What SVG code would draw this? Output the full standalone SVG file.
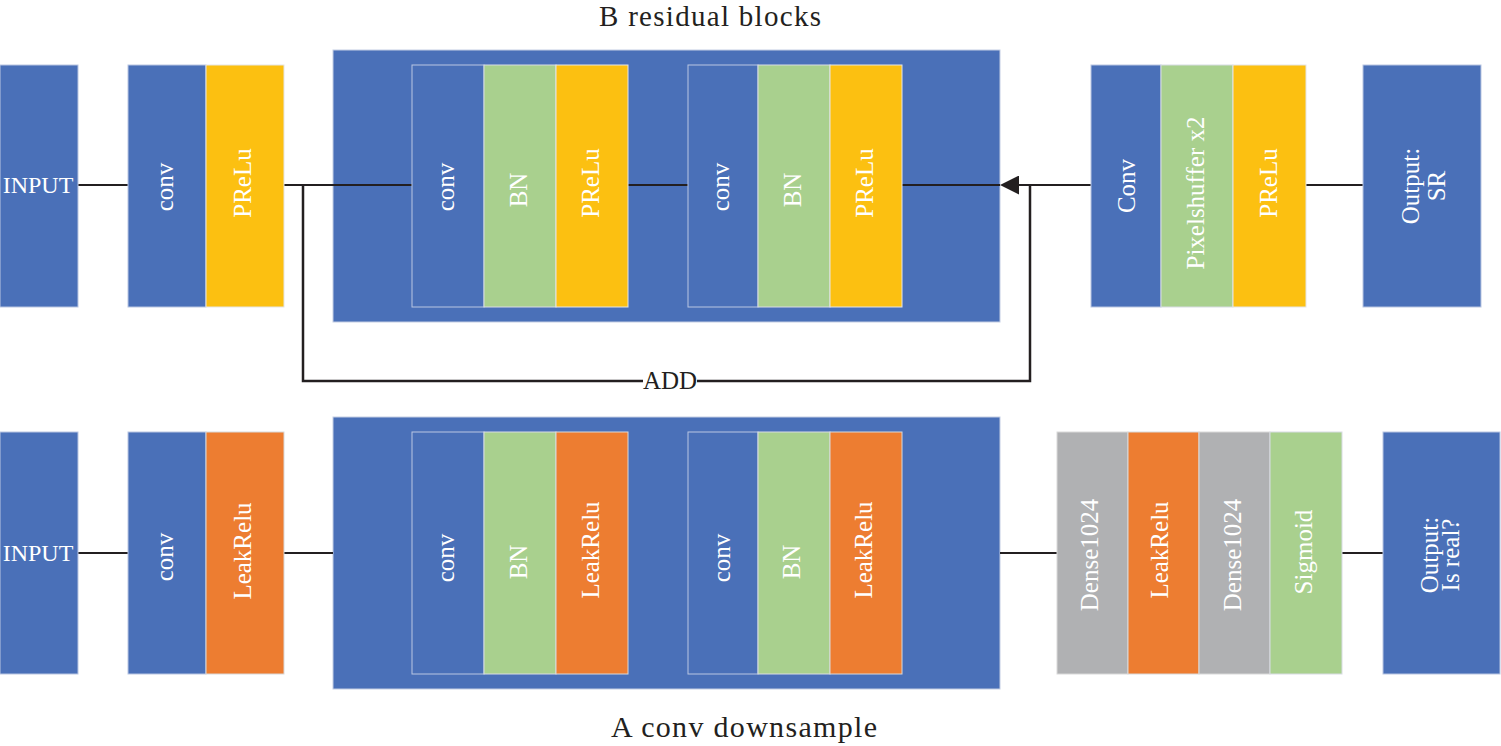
<svg xmlns="http://www.w3.org/2000/svg" width="1501" height="746" viewBox="0 0 1501 746">
<style>
  .blue{fill:#4A70B8;stroke:#B9C6E2;stroke-width:1}
  .yel{fill:#FCC011;stroke:#E6E6E6;stroke-width:1}
  .grn{fill:#A9D08E;stroke:#D8DCE4;stroke-width:1}
  .org{fill:#ED7D31;stroke:#D9D9D9;stroke-width:1}
  .gry{fill:#B0B1B3;stroke:#D9D9D9;stroke-width:1}
  .big{fill:#4A70B8;stroke:#C3CDE3;stroke-width:1}
  .lbl{font-family:"Liberation Serif","Times New Roman",serif;font-size:25px;fill:#FFFFFF;text-anchor:middle}
  .ttl{font-family:"Liberation Serif","Times New Roman",serif;fill:#231F20;text-anchor:middle}
  .ln{stroke:#231F20;stroke-width:2;fill:none}
  .lp{stroke:#231F20;stroke-width:2.5;fill:none}
</style>
<defs>
  <marker id="arr" viewBox="0 0 10 10" refX="0" refY="5" markerWidth="19" markerHeight="19" markerUnits="userSpaceOnUse" orient="auto">
    <path d="M0,0 L10,5 L0,10 z" fill="#231F20"/>
  </marker>
</defs>
<rect width="1501" height="746" fill="#FFFFFF"/>

<text class="ttl" x="710" y="26" style="font-size:29px" textLength="222" lengthAdjust="spacing">B residual blocks</text>
<text class="ttl" x="744" y="737" style="font-size:30px" textLength="266" lengthAdjust="spacing">A conv downsample</text>

<!-- big blocks -->
<g id="block-top"><rect class="big" x="333" y="50" width="667" height="272"/></g>
<g id="block-bottom"><rect class="big" x="333" y="417" width="667" height="272"/></g>

<!-- connectors -->
<g id="connectors">
  <line class="ln" x1="78" y1="185" x2="128" y2="185"/>
  <line class="ln" x1="284" y1="185" x2="412" y2="185"/>
  <line class="ln" x1="628" y1="185" x2="688" y2="185"/>
  <line class="ln" x1="902" y1="185" x2="1000" y2="185"/>
  <line class="ln" x1="1091" y1="185" x2="1019" y2="185" marker-end="url(#arr)"/>
  <line class="ln" x1="1306" y1="185" x2="1363" y2="185"/>
  <polyline class="lp" points="303,185 303,381 1030,381 1030,185"/>
  <line class="ln" x1="78" y1="553" x2="128" y2="553"/>
  <line class="ln" x1="284" y1="553" x2="333" y2="553"/>
  <line class="ln" x1="1000" y1="553" x2="1057" y2="553"/>
  <line class="ln" x1="1342" y1="553" x2="1383" y2="553"/>
</g>
<rect x="643" y="370" width="54" height="22" fill="#FFFFFF"/>
<text class="ttl" x="670" y="389" style="font-size:25px">ADD</text>

<!-- top row -->
<g id="input-top">
  <rect class="blue" x="0" y="65" width="78" height="242"/>
  <text class="lbl" x="38" y="193" style="font-size:24px">INPUT</text>
</g>
<g id="conv1-top">
  <rect class="blue" x="128" y="65" width="78" height="242"/>
  <text class="lbl" transform="translate(167,187) rotate(-90)" x="0" y="6">conv</text>
</g>
<g id="prelu1-top">
  <rect class="yel" x="206" y="65" width="78" height="242"/>
  <text class="lbl" transform="translate(245,183) rotate(-90)" x="0" y="6">PReLu</text>
</g>
<g id="res1-conv">
  <rect class="blue" x="412" y="65" width="72" height="242"/>
  <text class="lbl" transform="translate(448,187) rotate(-90)" x="0" y="6">conv</text>
</g>
<g id="res1-bn">
  <rect class="grn" x="484" y="65" width="72" height="242"/>
  <text class="lbl" transform="translate(520,190) rotate(-90)" x="0" y="7">BN</text>
</g>
<g id="res1-prelu">
  <rect class="yel" x="556" y="65" width="72" height="242"/>
  <text class="lbl" transform="translate(592,183) rotate(-90)" x="0" y="7">PReLu</text>
</g>
<g id="res2-conv">
  <rect class="blue" x="688" y="65" width="70" height="242"/>
  <text class="lbl" transform="translate(723,187) rotate(-90)" x="0" y="6">conv</text>
</g>
<g id="res2-bn">
  <rect class="grn" x="758" y="65" width="72" height="242"/>
  <text class="lbl" transform="translate(794,190) rotate(-90)" x="0" y="7">BN</text>
</g>
<g id="res2-prelu">
  <rect class="yel" x="830" y="65" width="72" height="242"/>
  <text class="lbl" transform="translate(866,183) rotate(-90)" x="0" y="7">PReLu</text>
</g>
<g id="up-conv">
  <rect class="blue" x="1091" y="65" width="70" height="242"/>
  <text class="lbl" transform="translate(1126,186) rotate(-90)" x="0" y="9">Conv</text>
</g>
<g id="up-pixelshuffer">
  <rect class="grn" x="1161" y="65" width="72" height="242"/>
  <text class="lbl" transform="translate(1197,193) rotate(-90)" x="0" y="7">Pixelshuffer x2</text>
</g>
<g id="up-prelu">
  <rect class="yel" x="1233" y="65" width="73" height="242"/>
  <text class="lbl" transform="translate(1269,183) rotate(-90)" x="0" y="8">PReLu</text>
</g>
<g id="output-sr">
  <rect class="blue" x="1363" y="65" width="118" height="242"/>
  <text class="lbl" transform="translate(1422,186) rotate(-90)"><tspan x="0" y="-3">Output:</tspan><tspan x="0" y="23">SR</tspan></text>
</g>

<!-- bottom row -->
<g id="input-bottom">
  <rect class="blue" x="0" y="432" width="78" height="242"/>
  <text class="lbl" x="38" y="561" style="font-size:24px">INPUT</text>
</g>
<g id="conv1-bottom">
  <rect class="blue" x="128" y="432" width="78" height="242"/>
  <text class="lbl" transform="translate(167,557) rotate(-90)" x="0" y="6">conv</text>
</g>
<g id="leak1-bottom">
  <rect class="org" x="206" y="432" width="78" height="242"/>
  <text class="lbl" transform="translate(245,551) rotate(-90)" x="0" y="6">LeakRelu</text>
</g>
<g id="d1-conv">
  <rect class="blue" x="412" y="432" width="72" height="242"/>
  <text class="lbl" transform="translate(448,558) rotate(-90)" x="0" y="6">conv</text>
</g>
<g id="d1-bn">
  <rect class="grn" x="484" y="432" width="72" height="242"/>
  <text class="lbl" transform="translate(520,562) rotate(-90)" x="0" y="7">BN</text>
</g>
<g id="d1-leak">
  <rect class="org" x="556" y="432" width="72" height="242"/>
  <text class="lbl" transform="translate(592,550) rotate(-90)" x="0" y="7">LeakRelu</text>
</g>
<g id="d2-conv">
  <rect class="blue" x="688" y="432" width="70" height="242"/>
  <text class="lbl" transform="translate(723,558) rotate(-90)" x="0" y="7">conv</text>
</g>
<g id="d2-bn">
  <rect class="grn" x="758" y="432" width="72" height="242"/>
  <text class="lbl" transform="translate(794,562) rotate(-90)" x="0" y="6">BN</text>
</g>
<g id="d2-leak">
  <rect class="org" x="830" y="432" width="72" height="242"/>
  <text class="lbl" transform="translate(866,550) rotate(-90)" x="0" y="6">LeakRelu</text>
</g>
<g id="dense1">
  <rect class="gry" x="1057" y="432" width="71" height="242"/>
  <text class="lbl" transform="translate(1092,555) rotate(-90)" x="0" y="6">Dense1024</text>
</g>
<g id="leak-dense">
  <rect class="org" x="1128" y="432" width="71" height="242"/>
  <text class="lbl" transform="translate(1163,550) rotate(-90)" x="0" y="5">LeakRelu</text>
</g>
<g id="dense2">
  <rect class="gry" x="1199" y="432" width="71" height="242"/>
  <text class="lbl" transform="translate(1235,555) rotate(-90)" x="0" y="6">Dense1024</text>
</g>
<g id="sigmoid">
  <rect class="grn" x="1270" y="432" width="72" height="242"/>
  <text class="lbl" transform="translate(1306,552) rotate(-90)" x="0" y="6">Sigmoid</text>
</g>
<g id="output-real">
  <rect class="blue" x="1383" y="432" width="117" height="242"/>
  <text class="lbl" transform="translate(1441,555) rotate(-90)"><tspan x="0" y="-3">Output:</tspan><tspan x="0" y="18">Is real?</tspan></text>
</g>
</svg>
